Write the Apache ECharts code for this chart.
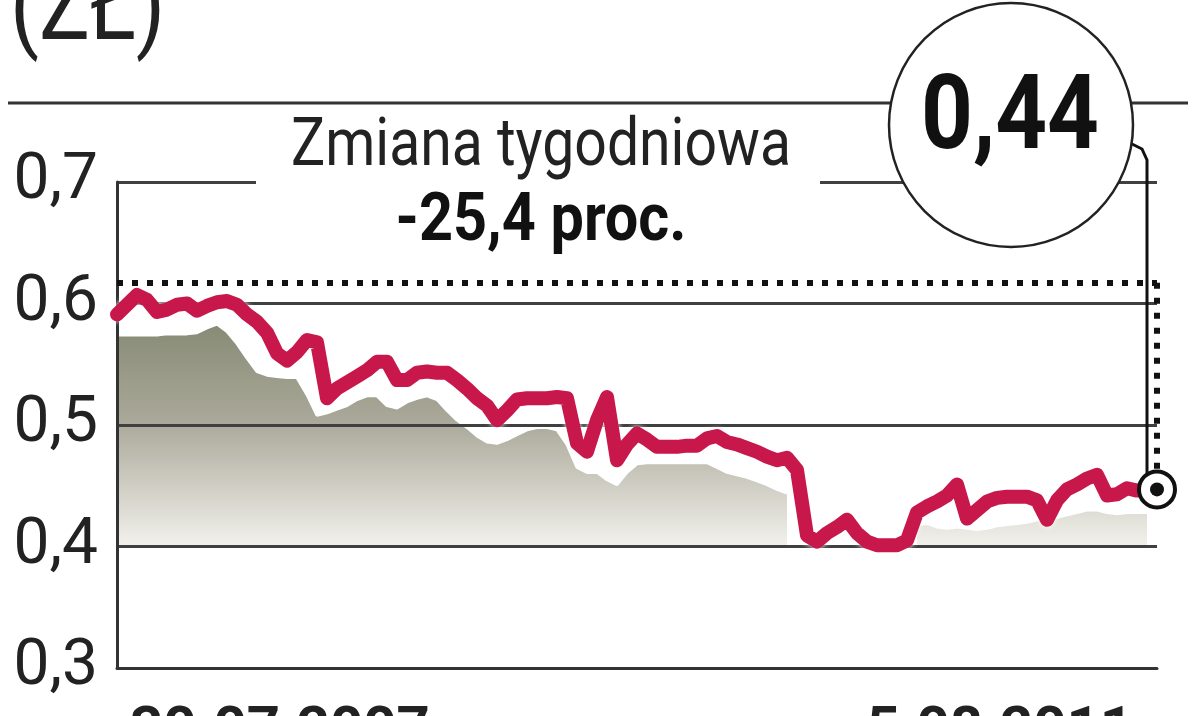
<!DOCTYPE html>
<html>
<head>
<meta charset="utf-8">
<title>Kurs akcji</title>
<script src="https://cdn.jsdelivr.net/npm/echarts@6/dist/echarts.min.js"></script>
<style>
  html, body { margin: 0; padding: 0; background: #fff; }
  #chart { width: 1200px; height: 716px; }
</style>
</head>
<body>
<div id="chart"></div>
<script>
    // notowania tygodniowe (zł)
    var price = [
        0.591, 0.599, 0.607, 0.603, 0.593, 0.595, 0.599, 0.600, 0.594, 0.598,
        0.601, 0.602, 0.599, 0.591, 0.585, 0.576, 0.559, 0.553, 0.560, 0.570,
        0.568, 0.522, 0.530, 0.535, 0.540, 0.545, 0.552, 0.552, 0.537, 0.537,
        0.543, 0.544, 0.543, 0.543, 0.537, 0.530, 0.522, 0.516, 0.504, 0.512,
        0.521, 0.522, 0.522, 0.522, 0.523, 0.522, 0.485, 0.478, 0.504, 0.523,
        0.471, 0.484, 0.493, 0.488, 0.482, 0.482, 0.482, 0.483, 0.483, 0.489,
        0.491, 0.486, 0.484, 0.481, 0.478, 0.474, 0.471, 0.473, 0.463, 0.409,
        0.404, 0.411, 0.416, 0.422, 0.411, 0.404, 0.401, 0.401, 0.401, 0.405,
        0.428, 0.433, 0.437, 0.442, 0.451, 0.423, 0.430, 0.437, 0.440, 0.441,
        0.441, 0.441, 0.438, 0.422, 0.438, 0.447, 0.451, 0.456, 0.459, 0.442,
        0.443, 0.448, 0.446, 0.447, 0.447
    ];
    // szare pole pod linia
    var shade = [
        0.574, 0.574, 0.574, 0.574, 0.574, 0.575, 0.575, 0.575, 0.576, 0.580,
        0.583, 0.577, 0.567, 0.555, 0.544, 0.541, 0.540, 0.539, 0.539, 0.525,
        0.508, 0.510, 0.513, 0.516, 0.521, 0.524, 0.524, 0.516, 0.514, 0.519,
        0.522, 0.524, 0.521, 0.512, 0.504, 0.498, 0.491, 0.486, 0.485, 0.488,
        0.492, 0.496, 0.498, 0.498, 0.496, 0.484, 0.465, 0.461, 0.461, 0.455,
        0.451, 0.461, 0.468, 0.469, 0.469, 0.469, 0.469, 0.469, 0.469, 0.469,
        0.465, 0.461, 0.459, 0.457, 0.454, 0.451, 0.447, 0.444, null, null,
        null, null, null, null, null, null, null, null, null, null,
        0.418, 0.419, 0.416, 0.415, 0.416, 0.415, 0.414, 0.415, 0.417, 0.418,
        0.419, 0.420, 0.422, 0.423, 0.424, 0.426, 0.428, 0.430, 0.430, 0.428,
        0.427, 0.428, 0.428, 0.428, null
    ];
    var dateLabels = ['30.07.2007', '5.08.2011'];
    var yTicks = [0.3, 0.4, 0.5, 0.6, 0.7];
    var refLevel = 0.617;
    var lastValue = '0,44';
    var changeTitle = 'Zmiana tygodniowa';
    var changeValue = '-25,4 proc.';
    var unitLabel = '(ZŁ)';

    var N = price.length;
    var weeks = price.map(function(v, i) { return i; });
    var narrow = 'Roboto, "Noto Sans", sans-serif';

    var myChart = echarts.init(document.getElementById('chart'));

    var option = {
        animation: false,
        backgroundColor: '#fff',
        grid: { left: 117, right: 43, top: 182, bottom: 48, containLabel: false, outerBoundsMode: 'none' },
        xAxis: {
            type: 'category',
            data: weeks,
            boundaryGap: false,
            z: 2,
            axisLine: { show: true, lineStyle: { color: '#333', width: 3 } },
            axisTick: { show: false },
            splitLine: { show: false },
            axisLabel: {
                interval: function(i) { return i === 0 || i === N - 1; },
                showMinLabel: true,
                showMaxLabel: true,
                alignMinLabel: 'left',
                alignMaxLabel: 'right',
                padding: [0, 24, 0, 13],
                margin: 35,
                color: '#222',
                fontFamily: narrow,
                fontWeight: 'bold',
                fontSize: 58,
                formatter: function(v, i) {
                    if (i === 0) return dateLabels[0];
                    if (i === N - 1) return dateLabels[1];
                    return '';
                }
            }
        },
        yAxis: {
            type: 'value',
            min: yTicks[0],
            max: yTicks[yTicks.length - 1],
            interval: 0.1,
            z: 2,
            axisLine: { show: true, lineStyle: { color: '#333', width: 3 } },
            axisTick: { show: false },
            splitLine: { show: true, lineStyle: { color: '#404040', width: 3 } },
            axisLabel: {
                margin: 19,
                color: '#222',
                fontFamily: narrow,
                fontSize: 64,
                padding: [0, 0, 36, 0],
                formatter: function(v) { return v.toFixed(1).replace('.', ','); }
            }
        },
        series: [
            {
                // cien pod linia
                type: 'line',
                data: shade,
                z: 1,
                symbol: 'none',
                silent: true,
                connectNulls: false,
                lineStyle: { color: '#fff', width: 3 },
                areaStyle: {
                    origin: 0.4,
                    opacity: 1,
                    color: {
                        type: 'linear', global: true,
                        x: 0, y: 320, x2: 0, y2: 548,
                        colorStops: [
                            { offset: 0, color: '#858a74' },
                            { offset: 0.45, color: '#aba99a' },
                            { offset: 1, color: '#f3f2ed' }
                        ]
                    }
                }
            },
            {
                type: 'line',
                data: price,
                z: 3,
                symbol: 'none',
                silent: true,
                lineStyle: {
                    color: '#c8174b',
                    width: 14,
                    cap: 'round',
                    join: 'round',
                    shadowColor: 'rgba(255,255,255,0.95)',
                    shadowBlur: 5
                },
                markLine: {
                    silent: true,
                    symbol: ['none', 'none'],
                    label: { show: false },
                    lineStyle: { color: '#111', width: 6, type: [6, 9], cap: 'butt' },
                    data: [
                        [{ coord: [0, refLevel] }, { coord: [N - 1, refLevel] }],
                        [{ coord: [N - 1, refLevel] }, { coord: [N - 1, price[N - 1]] }]
                    ]
                },
                markPoint: {
                    silent: true,
                    label: { show: false },
                    data: [
                        { coord: [N - 1, price[N - 1]], symbol: 'circle', symbolSize: 36,
                          itemStyle: { color: '#fff', borderColor: '#111', borderWidth: 4 } },
                        { coord: [N - 1, price[N - 1]], symbol: 'circle', symbolSize: 14,
                          itemStyle: { color: '#111' } }
                    ]
                }
            }
        ]
    };
    myChart.setOption(option);

    // odnosnik od kolka do ostatniego notowania
    var endPt = myChart.convertToPixel({ seriesIndex: 1 }, [N - 1, price[N - 1]]);

    myChart.setOption({
        graphic: [
            { type: 'text', x: 10, y: 64, z: 10, scaleX: 0.85,
              style: { text: unitLabel, font: '100px ' + narrow, fill: '#222', verticalAlign: 'bottom' } },
            { type: 'line', z: 10, shape: { x1: 8, y1: 103, x2: 1188, y2: 103 },
              style: { stroke: '#333', lineWidth: 3 } },
            // przerwa w linii 0,7 pod napisem
            { type: 'rect', z: 10, shape: { x: 256, y: 174, width: 564, height: 16 },
              style: { fill: '#fff' } },
            { type: 'text', z: 11, x: 541, y: 148, scaleX: 0.865,
              style: { text: changeTitle, font: '66px ' + narrow, fill: '#222',
                       align: 'center', verticalAlign: 'middle' } },
            { type: 'text', z: 11, x: 541, y: 223, scaleX: 0.9,
              style: { text: changeValue, font: 'bold 66px ' + narrow, fill: '#111',
                       align: 'center', verticalAlign: 'middle' } },
            { type: 'polyline', z: 10,
              shape: { points: [[1130, 143], [1142, 149], [endPt[0] - 10, 160], [endPt[0] - 10, endPt[1] - 16]] },
              style: { stroke: '#111', lineWidth: 3, fill: null } },
            { type: 'circle', z: 12, shape: { cx: 1011, cy: 125, r: 122 },
              style: { fill: '#fff', stroke: '#222', lineWidth: 2.5 } },
            { type: 'text', z: 13, x: 1010, y: 122, scaleX: 0.87,
              style: { text: lastValue, font: 'bold 104px ' + narrow, fill: '#111',
                       align: 'center', verticalAlign: 'middle' } }
        ]
    });
</script>
</body>
</html>
